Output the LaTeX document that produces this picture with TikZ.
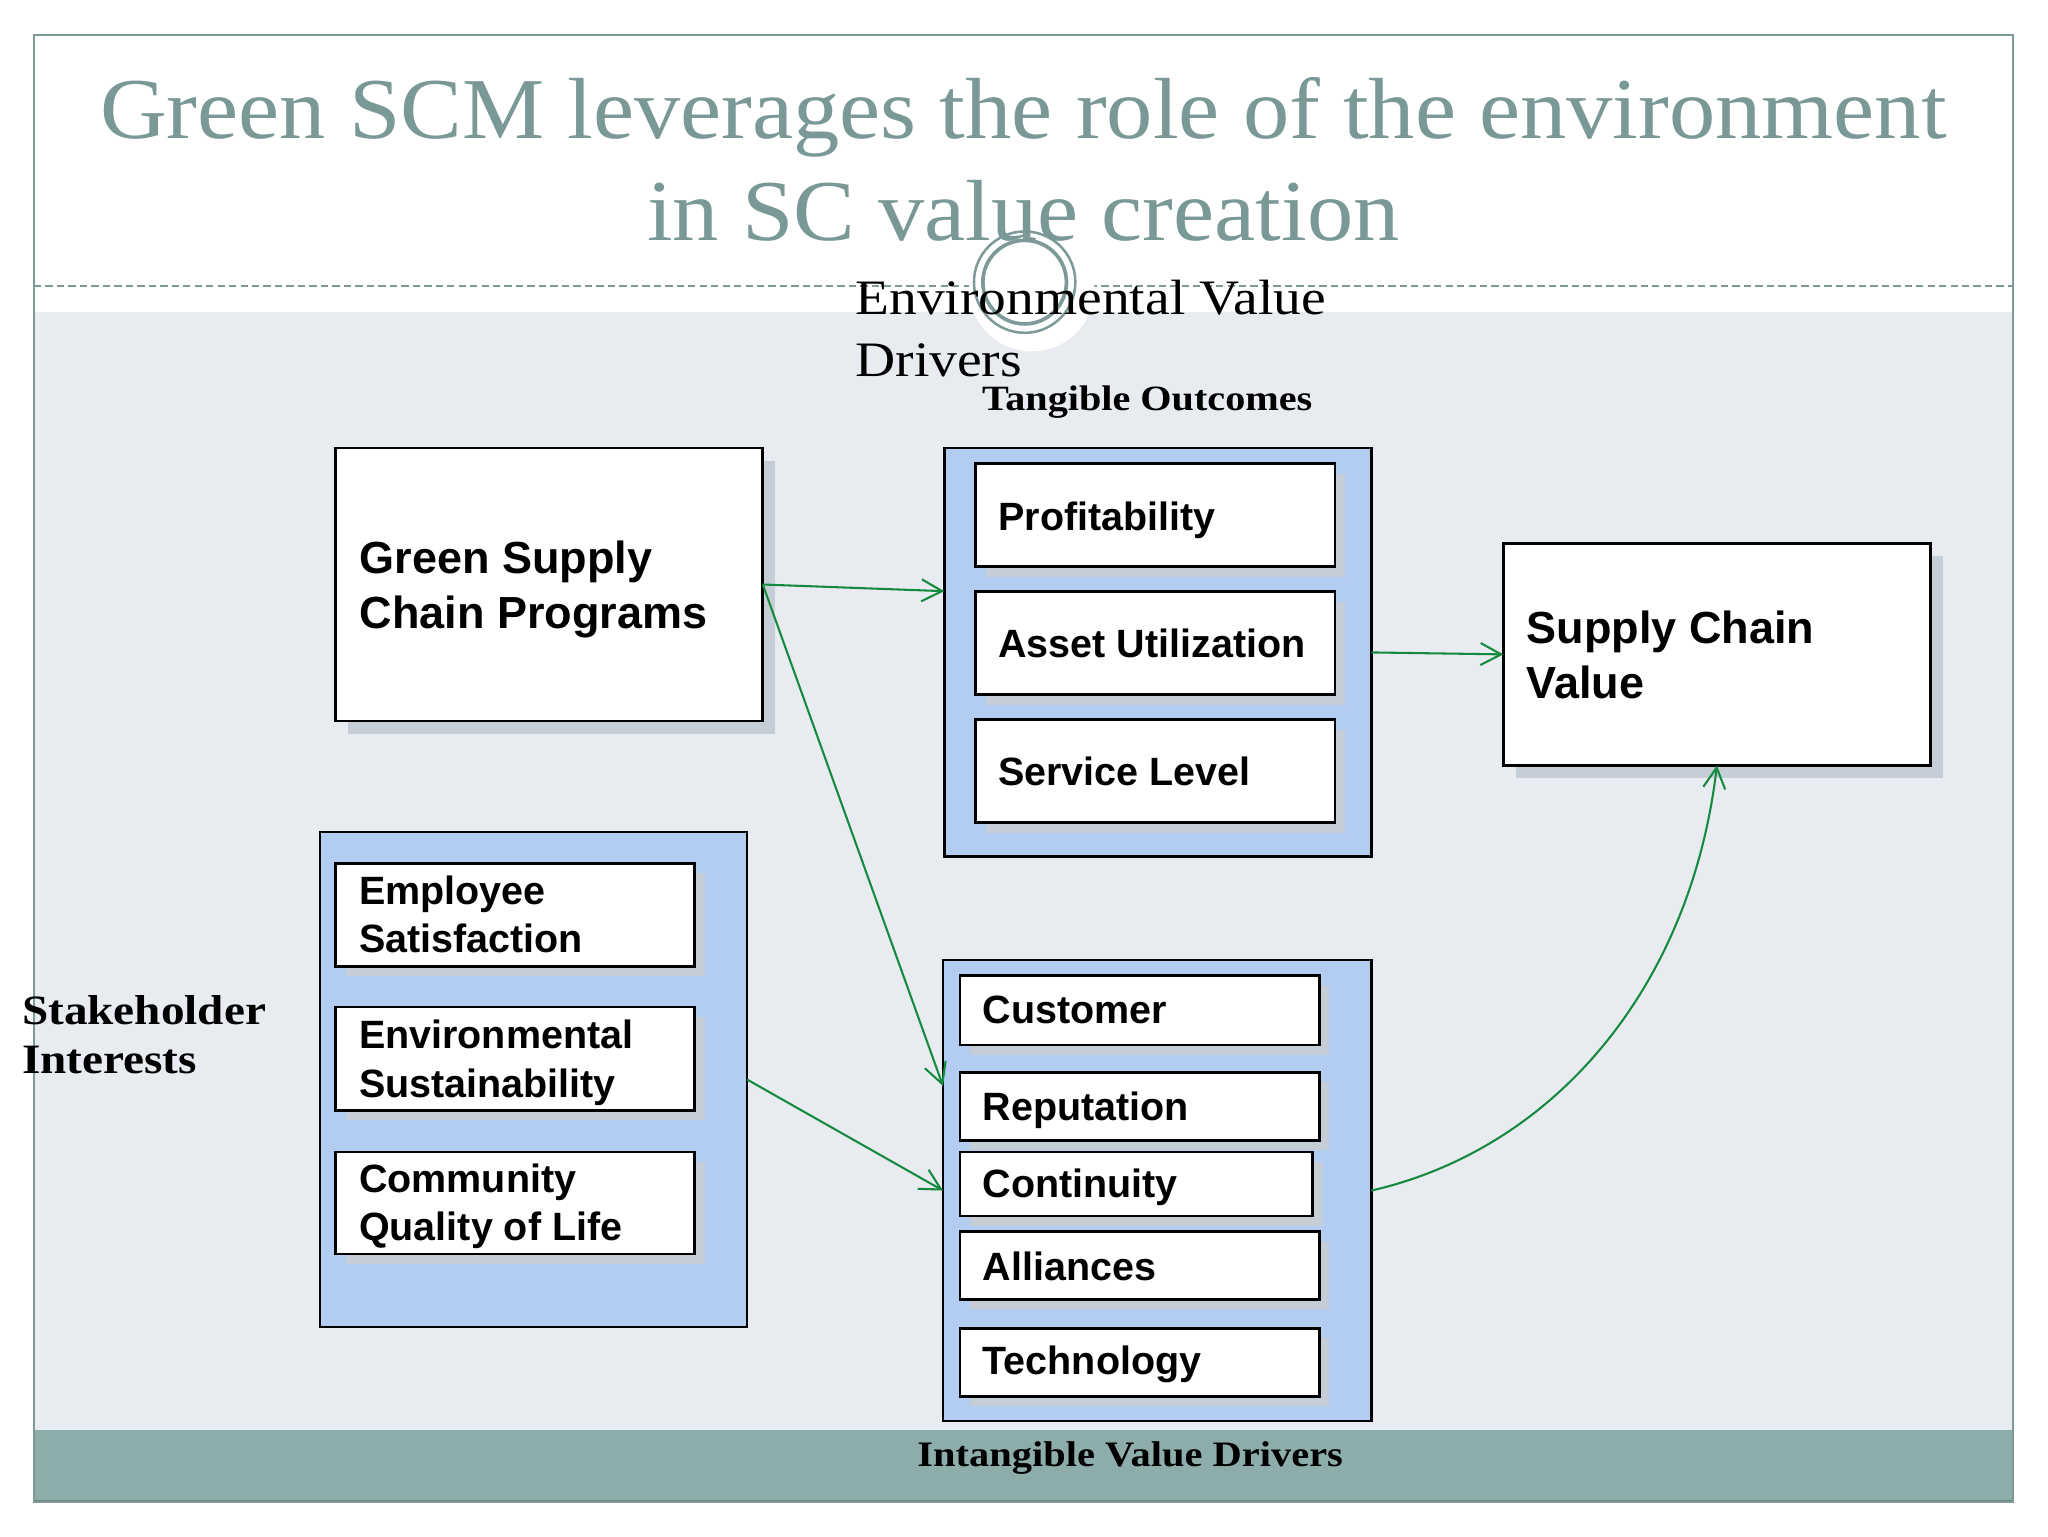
\documentclass[tikz,border=0pt]{standalone}
\usepackage{fontspec}
\setmainfont{Liberation Serif}
\newfontfamily\titlefont[FakeStretch=1.066]{Liberation Serif}
\newfontfamily\gregfont[FakeStretch=1.12]{Liberation Serif}
\newfontfamily\gboldfont[FakeStretch=1.13]{Liberation Serif}
\newfontfamily\arialfont{Liberation Sans}
\usetikzlibrary{arrows.meta,shadows}
\definecolor{framecol}{HTML}{7E9A98}
\definecolor{titlecol}{HTML}{7A9896}
\definecolor{bggray}{HTML}{E8EBEF}
\definecolor{bandcol}{HTML}{8DADAA}
\definecolor{boxblue}{HTML}{B3CCF2}
\definecolor{shadowcol}{HTML}{C5CED6}
\definecolor{arrowgreen}{HTML}{148A3E}
\tikzset{
  bigbox/.style={draw=black, line width=1.2pt, fill=white, inner sep=0pt, outer sep=0pt, anchor=north west,
    drop shadow={shadow xshift=5.5pt, shadow yshift=-5.5pt, fill=shadowcol, opacity=1}},
  smallbox/.style={draw=black, line width=1.2pt, fill=white, inner sep=0pt, outer sep=0pt, anchor=north west,
    drop shadow={shadow xshift=4.3pt, shadow yshift=-4.3pt, fill=shadowcol, opacity=1}},
  container/.style={draw=black, line width=1.2pt, fill=boxblue, inner sep=0pt, outer sep=0pt, anchor=north west},
  bigtext/.style={inner sep=0pt, anchor=base west, align=left, font=\arialfont\bfseries\fontsize{19.6pt}{23.9pt}\selectfont},
  smalltext/.style={inner sep=0pt, anchor=base west, align=left, font=\arialfont\bfseries\fontsize{17.2pt}{21pt}\selectfont},
  heading/.style={inner sep=0pt, anchor=base west, align=left, font=\gboldfont\bfseries\fontsize{15.5pt}{19pt}\selectfont},
  link/.style={draw=arrowgreen, line width=0.9pt, -{Straight Barb[length=9pt,width=9.6pt,line width=0.9pt]}},
}
\begin{document}
\begin{tikzpicture}[x=0.2mm, y=-0.2mm]
\useasboundingbox (0,0) rectangle (1568,1176);
% slide background
\fill[white] (0,0) rectangle (1568,1176);
\fill[bggray] (26,238.6) rectangle (1541,1095);
\fill[bandcol] (26,1095) rectangle (1541,1150);
\draw[framecol!85!black, line width=1pt] (26,1149.5) -- (1541,1149.5);
\draw[framecol, line width=0.9pt] (26,27) rectangle (1541,1150);
\draw[framecol, line width=1pt, dash pattern=on 3.2pt off 1.8pt] (26,219) -- (1541,219);
% ornament
\fill[white] (790,221) circle[radius=48];
\draw[framecol, line width=1.1pt] (784.5,216) circle[radius=38.8];
\draw[framecol, line width=1.6pt] (784.5,216) circle[radius=32];
% title (base anchor = baseline of last line)
\node[inner sep=0pt, anchor=base, align=center, text=titlecol,
  font=\titlefont\fontsize{37.8pt}{44.4pt}\selectfont] (title) at (783.5,184.4)
  {Green SCM leverages the role of the environment\\in SC value creation};
\node[inner sep=0pt, anchor=base west, align=left,
  font=\gregfont\fontsize{21.6pt}{26.9pt}\selectfont] (envval) at (654.6,288.4)
  {Environmental Value\\Drivers};
\node[heading] (tanghead) at (751.6,314.4) {Tangible Outcomes};
\node[heading, font=\gboldfont\bfseries\fontsize{18.2pt}{21pt}\selectfont] (stakehead) at (16.6,821.6)
  {Stakeholder\\Interests};
\node[heading, font=\gboldfont\bfseries\fontsize{15.6pt}{19pt}\selectfont] (intanghead) at (702,1123)
  {Intangible Value Drivers};
% containers
\node[container, minimum width=65.4mm, minimum height=62.6mm] (tang) at (723,343) {};
\node[container, minimum width=65.4mm, minimum height=75.8mm] (stake) at (245,637) {};
\node[container, minimum width=65.6mm, minimum height=70.6mm] (intang) at (722,735) {};
% big boxes
\node[bigbox, minimum width=65.4mm, minimum height=41.8mm] (gscp) at (257,343) {};
\node[bigtext] (gscpt) at (275,481) {Green Supply\\Chain Programs};
\node[bigbox, minimum width=65.4mm, minimum height=34mm] (scv) at (1151,416) {};
\node[bigtext] (scvt) at (1168.5,535) {Supply Chain\\Value};
% tangible boxes
\node[smallbox, minimum width=55mm, minimum height=15.8mm] (prof) at (747,355) {};
\node[smalltext] (proft) at (764,405.8) {Profitability};
\node[smallbox, minimum width=55mm, minimum height=15.8mm] (asset) at (747,453) {};
\node[smalltext] (assett) at (764,503.5) {Asset Utilization};
\node[smallbox, minimum width=55mm, minimum height=15.8mm] (serv) at (747,551) {};
\node[smalltext] (servt) at (764,601.5) {Service Level};
% stakeholder boxes
\node[smallbox, minimum width=55mm, minimum height=15.8mm] (emp) at (257,661) {};
\node[smalltext] (empt) at (274.6,729.3) {Employee\\Satisfaction};
\node[smallbox, minimum width=55mm, minimum height=15.8mm] (envs) at (257,771) {};
\node[smalltext] (envst) at (274.6,840) {Environmental\\Sustainability};
\node[smallbox, minimum width=55mm, minimum height=15.6mm] (comm) at (257,882) {};
\node[smalltext] (commt) at (274.6,950) {Community\\Quality of Life};
% intangible boxes
\node[smallbox, minimum width=55mm, minimum height=10.6mm] (cust) at (735,747) {};
\node[smalltext] (custt) at (752,783.5) {Customer};
\node[smallbox, minimum width=55mm, minimum height=10.4mm] (rep) at (735,821) {};
\node[smalltext] (rept) at (752,857.5) {Reputation};
\node[smallbox, minimum width=54mm, minimum height=9.8mm] (cont) at (735,882) {};
\node[smalltext] (contt) at (752,916.7) {Continuity};
\node[smallbox, minimum width=55mm, minimum height=10.4mm] (alli) at (735,943) {};
\node[smalltext] (allit) at (752,980) {Alliances};
\node[smallbox, minimum width=55mm, minimum height=10.4mm] (tech) at (735,1017) {};
\node[smalltext] (techt) at (752,1052.7) {Technology};
% connectors
\draw[link] (gscp.east) -- (tang.164.1);
\draw[link] (gscp.east) -- (intang.154.1);
\draw[link] (stake.east) -- (intang.west);
\draw[link] (tang.east) -- (scv.west);
\draw[link] (intang.east) .. controls +(140,-32) and +(-20,170) .. (scv.south);
\end{tikzpicture}
\end{document}
